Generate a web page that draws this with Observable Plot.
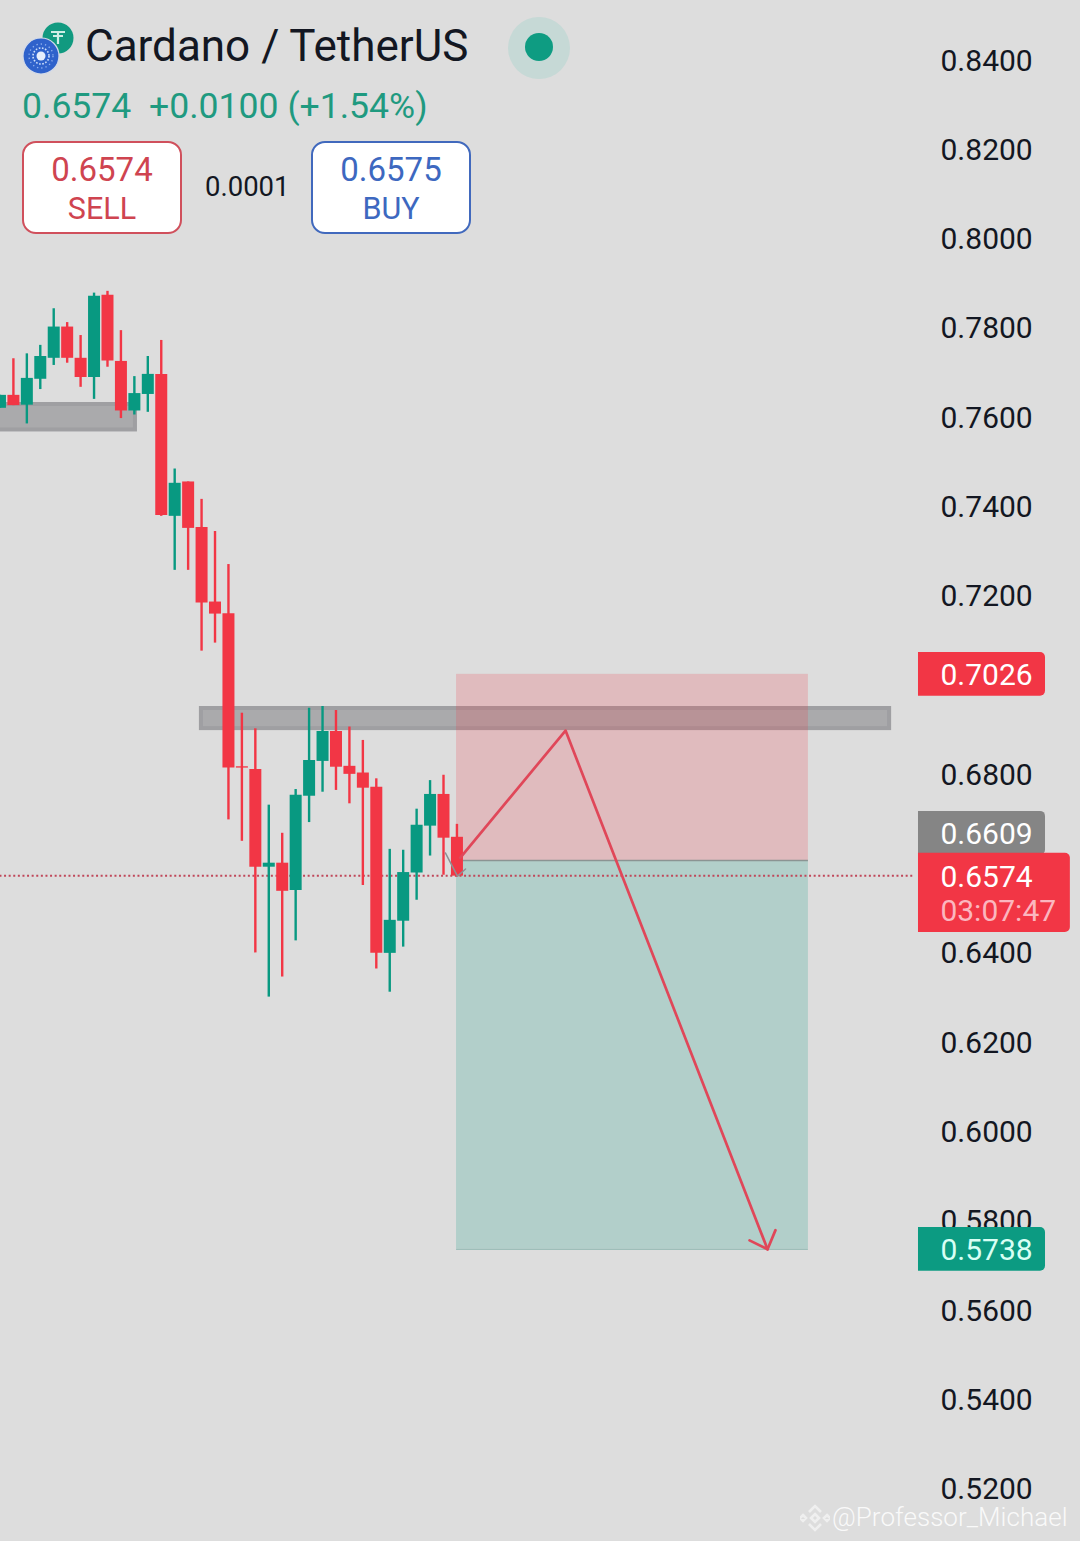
<!DOCTYPE html>
<html>
<head>
<meta charset="utf-8">
<script src="https://cdn.jsdelivr.net/npm/d3@7"></script>
<script src="https://cdn.jsdelivr.net/npm/@observablehq/plot@0.6"></script>
<style>
html,body{margin:0;padding:0;background:#dddddd;}
#wrap{position:relative;width:1080px;height:1541px;overflow:hidden;font-family:Roboto,sans-serif;}
#chart svg{display:block;}
.h{position:absolute;white-space:nowrap;line-height:1;}
.btn{position:absolute;top:141px;width:156px;height:89px;border-radius:14px;background:#fff;border:2px solid;text-align:center;}
.btn .a{position:absolute;left:0;right:0;top:8px;font-size:33px;line-height:38px;}
.btn .b{position:absolute;left:0;right:0;top:50px;font-size:30.5px;line-height:32px;}
.c{position:absolute;border-radius:50%;}
</style>
</head>
<body>
<div id="wrap">
<div id="chart"></div>
<svg class="h" style="left:20px;top:20px;" width="58" height="58" viewBox="0 0 58 58">
  <circle cx="38" cy="18" r="15.5" fill="#119a80"/>
  <path d="M31 12h14M38 12v12M33 16h10" stroke="#cfeee6" stroke-width="2.2" fill="none"/>
  <circle cx="21" cy="36" r="18" fill="#2f62cb" stroke="#d3dae8" stroke-width="1.2"/>
  <circle cx="21" cy="36" r="4.5" fill="#e6eefc"/>
  <circle cx="21" cy="36" r="8" fill="none" stroke="#cfe0fb" stroke-width="1.6" stroke-dasharray="1.6 1.6"/>
  <circle cx="21" cy="36" r="12" fill="none" stroke="#93b2ee" stroke-width="1.3" stroke-dasharray="1.3 3"/>
</svg>
<div class="h" style="left:85px;top:24px;font-size:44px;color:#131722;">Cardano / TetherUS</div>
<div class="c" style="left:508px;top:17px;width:62px;height:62px;background:#c6d9d6;"></div>
<div class="c" style="left:525px;top:33px;width:28px;height:28px;background:#0e9c82;"></div>
<div class="h" style="left:22px;top:89px;font-size:35.6px;color:#1f9a80;">0.6574&nbsp;&nbsp;+0.0100 (+1.54%)</div>
<div class="btn" style="left:22px;border-color:#d0505c;color:#cf4450;"><div class="a">0.6574</div><div class="b">SELL</div></div>
<div class="h" style="left:205px;top:173px;font-size:27.5px;color:#131722;">0.0001</div>
<div class="btn" style="left:311px;border-color:#4169bd;color:#3d68c0;"><div class="a">0.6575</div><div class="b">BUY</div></div>
<svg class="h" style="left:800px;top:1503px;" width="30" height="30" viewBox="-15 -15 30 30">
  <g fill="none" stroke="#f2f2f2" stroke-width="2.6" opacity=".9">
    <path d="M-6 -6L0 -12L6 -6M-6 6L0 12L6 6M-12 -3L-9 0L-12 3L-15 0ZM12 -3L15 0L12 3L9 0Z"/>
    <path d="M0 -4L4 0L0 4L-4 0Z"/>
  </g>
</svg>
<div class="h" style="left:832px;top:1504px;font-size:26px;color:rgba(255,255,255,.85);font-weight:300;letter-spacing:.05px;">@Professor_Michael</div>
</div>
<script>
// Candles, oldest first (bar index = array position)
const opens  = [.7622,.7651,.7629,.7687,.7734,.7804,.7734,.7691,.7875,.7727,.7616,.7653,.7698,.7380,.7457,.7355,.7188,.7162,.6819,.6813,.6594,.6603,.6542,.6753,.6831,.6898,.6820,.6805,.6773,.6401,.6473,.6581,.6686,.6757,.6661];
const closes = [.7651,.7628,.7689,.7738,.7804,.7734,.7691,.7873,.7728,.7616,.7655,.7698,.7382,.7454,.7353,.7186,.7161,.6816,.6816,.6594,.6603,.6540,.6755,.6833,.6898,.6818,.6802,.6771,.6401,.6475,.6582,.6688,.6757,.6659,.6574];
const highs  = [.7651,.7733,.7744,.7763,.7845,.7814,.7785,.7880,.7884,.7796,.7693,.7738,.7774,.7486,.7457,.7418,.7346,.7272,.6939,.6904,.6733,.6670,.6768,.6950,.6954,.6945,.6908,.6878,.6792,.6634,.6632,.6724,.6788,.6800,.6690];
const lows   = [.7622,.7628,.7587,.7664,.7718,.7723,.7669,.7642,.7714,.7599,.7607,.7613,.7380,.7259,.7259,.7078,.7096,.6700,.6652,.6402,.6303,.6348,.6429,.6694,.6762,.6766,.6736,.6553,.6366,.6314,.6415,.6520,.6619,.6576,.6572];

// Price axis: the labels that the tags do not replace
const priceTicks = [.84,.82,.80,.78,.76,.74,.72,.68,.64,.62,.60,.58,.56,.54,.52];

// Trade levels
const stopPrice = .7026, entryPrice = .6609, targetPrice = .5738, lastPrice = .6574;
const tradeStartBar = 33.97, tradeEndBar = 60.15;

// Grey supply zones: bar range and price range
const zoneBar1 = [-1, 14.84];
const zoneBar2 = [10.23, 66.34];
const zoneTop = [.7635, .6954];
const zoneBottom = [.7569, .6900];

// Projected path
const pathBars = [34.24, 42.08, 57.11];
const pathPrices = [.6615, .6900, .5738];
const headBars = [55.77, 57.11, 57.7];
const headPrices = [.5758, .5738, .5781];
const ghostBars = [33.14, 34.04, 34.64];
const ghostPrices = [.6626, .6574, .6590];

// Price tags on the axis
const tagText = ["0.7026","0.6609","0.5738"];
const tagCentre = [.7026,.6670,.5738];
const tagColor = ["#f23645","#858585","#0c9b82"];
const tagInk = ["#ffffff","#ffffff","#d8fff4"];
const clockText = "03:07:47", clockPrice = .6497;
const lastTagTop = .6625, lastTagBottom = .6448;
const tagHalf = .0049, tagBar1 = 68.34, tagBar2 = 77.79, lastTagBar2 = 79.64, tagTextBar = 69.97;

const green = "#089981", red = "#f23645";
const candles = opens.map((o,i)=>({i,o,c:closes[i],h:highs[i],l:lows[i],dir:closes[i]>=o?"up":"down"}));
const tags = tagCentre.map((p,k)=>({p,t:tagText[k],fill:tagColor[k],ink:tagInk[k]}));
const path = pathBars.map((x,k)=>({x,y:pathPrices[k]}));
const head = headBars.map((x,k)=>({x,y:headPrices[k]}));
const ghost = ghostBars.map((x,k)=>({x,y:ghostPrices[k]}));
const zones = zoneBar1.map((x1,k)=>({x1,x2:zoneBar2[k],y1:zoneTop[k],y2:zoneBottom[k]}));

const chart = Plot.plot({
  width:1080, height:1541,
  marginLeft:0, marginTop:0, marginBottom:0, marginRight:141,
  x:{domain:[0.04,69.94], range:[0,939.5], axis:null},
  y:{domain:[.84,.52], range:[60.5,1489], axis:null},
  color:{domain:["up","down"], range:[green,red]},
  style:{background:"#dddddd", fontFamily:"Roboto, sans-serif", overflow:"hidden"},
  marks:[
    Plot.axisY(priceTicks,{anchor:"right", tickSize:0, tickPadding:1, tickFormat:d3.format(".4f"), fontSize:30, dy:0, fill:"#131722", label:null}),
    Plot.rect(zones,{x1:"x1",x2:"x2",y1:"y1",y2:"y2",fill:"#aaaaac",stroke:"#9f9fa2",strokeWidth:4,inset:2}),
    Plot.rect([0],{x1:tradeStartBar,x2:tradeEndBar,y1:stopPrice,y2:entryPrice,fill:red,fillOpacity:.2}),
    Plot.rect([0],{x1:tradeStartBar,x2:tradeEndBar,y1:entryPrice,y2:targetPrice,fill:green,fillOpacity:.2}),
    Plot.ruleY([entryPrice],{x1:tradeStartBar,x2:tradeEndBar,stroke:"#8b9493",strokeWidth:1.5}),
    Plot.ruleY([targetPrice],{x1:tradeStartBar,x2:tradeEndBar,stroke:"#92b9b2",strokeWidth:1}),
    Plot.ruleY([lastPrice],{x1:0,x2:68.1,stroke:"#c0475a",strokeWidth:2,strokeDasharray:"2 2.6",dy:-.5}),
    Plot.ruleX(candles,{x:"i",y1:"h",y2:"l",stroke:"dir",strokeWidth:2.4}),
    Plot.ruleX(candles,{x:"i",y1:"o",y2:"c",stroke:"dir",strokeWidth:12}),
    Plot.line(ghost,{x:"x",y:"y",stroke:"#8f8f93",strokeWidth:1.5}),
    Plot.line(path,{x:"x",y:"y",stroke:"#e04759",strokeWidth:2.7}),
    Plot.line(head,{x:"x",y:"y",stroke:"#e04759",strokeWidth:2.7}),
    Plot.rect(tags,{x1:tagBar1,x2:tagBar2,y1:d=>d.p+tagHalf,y2:d=>d.p-tagHalf,fill:"fill",rx2:5}),
    Plot.rect([0],{x1:tagBar1,x2:lastTagBar2,y1:lastTagTop,y2:lastTagBottom,fill:red,rx2:5}),
    Plot.text(tags,{x:tagTextBar,y:"p",text:"t",fill:"ink",textAnchor:"start",fontSize:30,dy:1}),
    Plot.text([lastPrice],{x:tagTextBar,y:d=>d,text:d=>d.toFixed(4),fill:"#ffffff",textAnchor:"start",fontSize:30,dy:1}),
    Plot.text([clockText],{x:tagTextBar,y:clockPrice,text:d=>d,fill:"#fbb6bf",textAnchor:"start",fontSize:30,dy:1})
  ]
});
document.getElementById("chart").appendChild(chart);
</script>
</body>
</html>
